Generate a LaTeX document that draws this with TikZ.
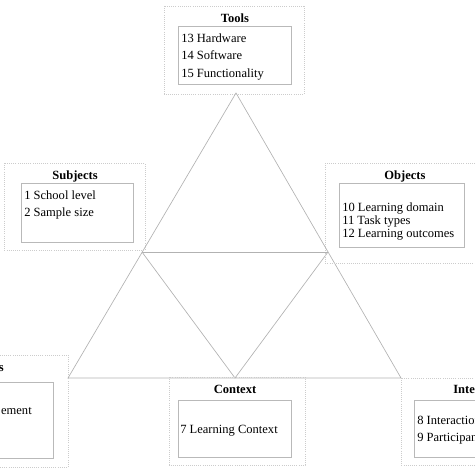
\documentclass[tikz,border=0pt]{standalone}
\usepackage{fontspec}
\setmainfont{Liberation Serif}
\usepackage{tikz}
\usepackage{color}

\begin{document}
\begin{tikzpicture}[x=0.75pt,y=-0.75pt,
  outerbox/.style={draw=gray!40, densely dotted, line width=0.6pt},
  innerbox/.style={draw=gray!55, line width=0.6pt},
  tri/.style={draw=gray!60, line width=0.5pt},
  head/.style={font=\fontsize{9.4pt}{11pt}\selectfont\bfseries, inner sep=0pt, anchor=base},
  item/.style={font=\fontsize{9.4pt}{11pt}\selectfont, inner sep=0pt, anchor=base west}]
\useasboundingbox (0,0) rectangle (474,474);

% triangle
\coordinate (apex) at (236,93);
\coordinate (lv) at (68,378);
\coordinate (rv) at (401,378);
\coordinate (ml) at (142,252);
\coordinate (mr) at (328,252);
\coordinate (bm) at (235,378);
\draw[tri] (apex) -- (lv) -- (rv) -- cycle;
\draw[tri] (ml) -- (mr);
\draw[tri] (ml) -- (bm) -- (mr);

% Tools
\draw[outerbox] (164,6) rectangle (304,94);
\draw[innerbox] (178,26) rectangle (291,84);
\node[head] (tools) at (235,22.5) {Tools};
\node[item] (t13) at (181,42.5) {13 Hardware};
\node[item] (t14) at (181,60) {14 Software};
\node[item] (t15) at (181,77.5) {15 Functionality};

% Subjects
\draw[outerbox] (4,163) rectangle (145,250);
\draw[innerbox] (21,183) rectangle (133,242);
\node[head] (subjects) at (75,179.5) {Subjects};
\node[item] (s1) at (24,199.5) {1 School level};
\node[item] (s2) at (24,216.5) {2 Sample size};

% Objects
\draw[outerbox] (325,163) rectangle (477,263);
\draw[innerbox] (339,183) rectangle (464,247);
\node[head] (objects) at (405,179.5) {Objects};
\node[item] (o10) at (342,211) {10 Learning domain};
\node[item] (o11) at (342,224) {11 Task types};
\node[item] (o12) at (342,237) {12 Learning outcomes};

% left box (cut off)
\draw[outerbox] (-80,355) rectangle (68,467);
\draw[innerbox] (-70,382) rectangle (53,458);
\node[head, anchor=base east] (lefthead) at (4,371) {s};
\node[item, anchor=base east] (leftitem) at (32,414.5) {ement};

% Context
\draw[outerbox] (169,377) rectangle (305,465);
\draw[innerbox] (178,400) rectangle (291,457);
\node[head] (context) at (235,393.5) {Context};
\node[item] (c7) at (180,433) {7 Learning Context};

% Interaction (cut off)
\draw[outerbox] (401,378) rectangle (540,465);
\draw[innerbox] (414,400) rectangle (530,457);
\node[head, anchor=base west] (interaction) at (453,393.5) {Interaction};
\node[item] (i8) at (417,424.5) {8 Interaction};
\node[item] (i9) at (417,441.5) {9 Participants};

\end{tikzpicture}
\end{document}
